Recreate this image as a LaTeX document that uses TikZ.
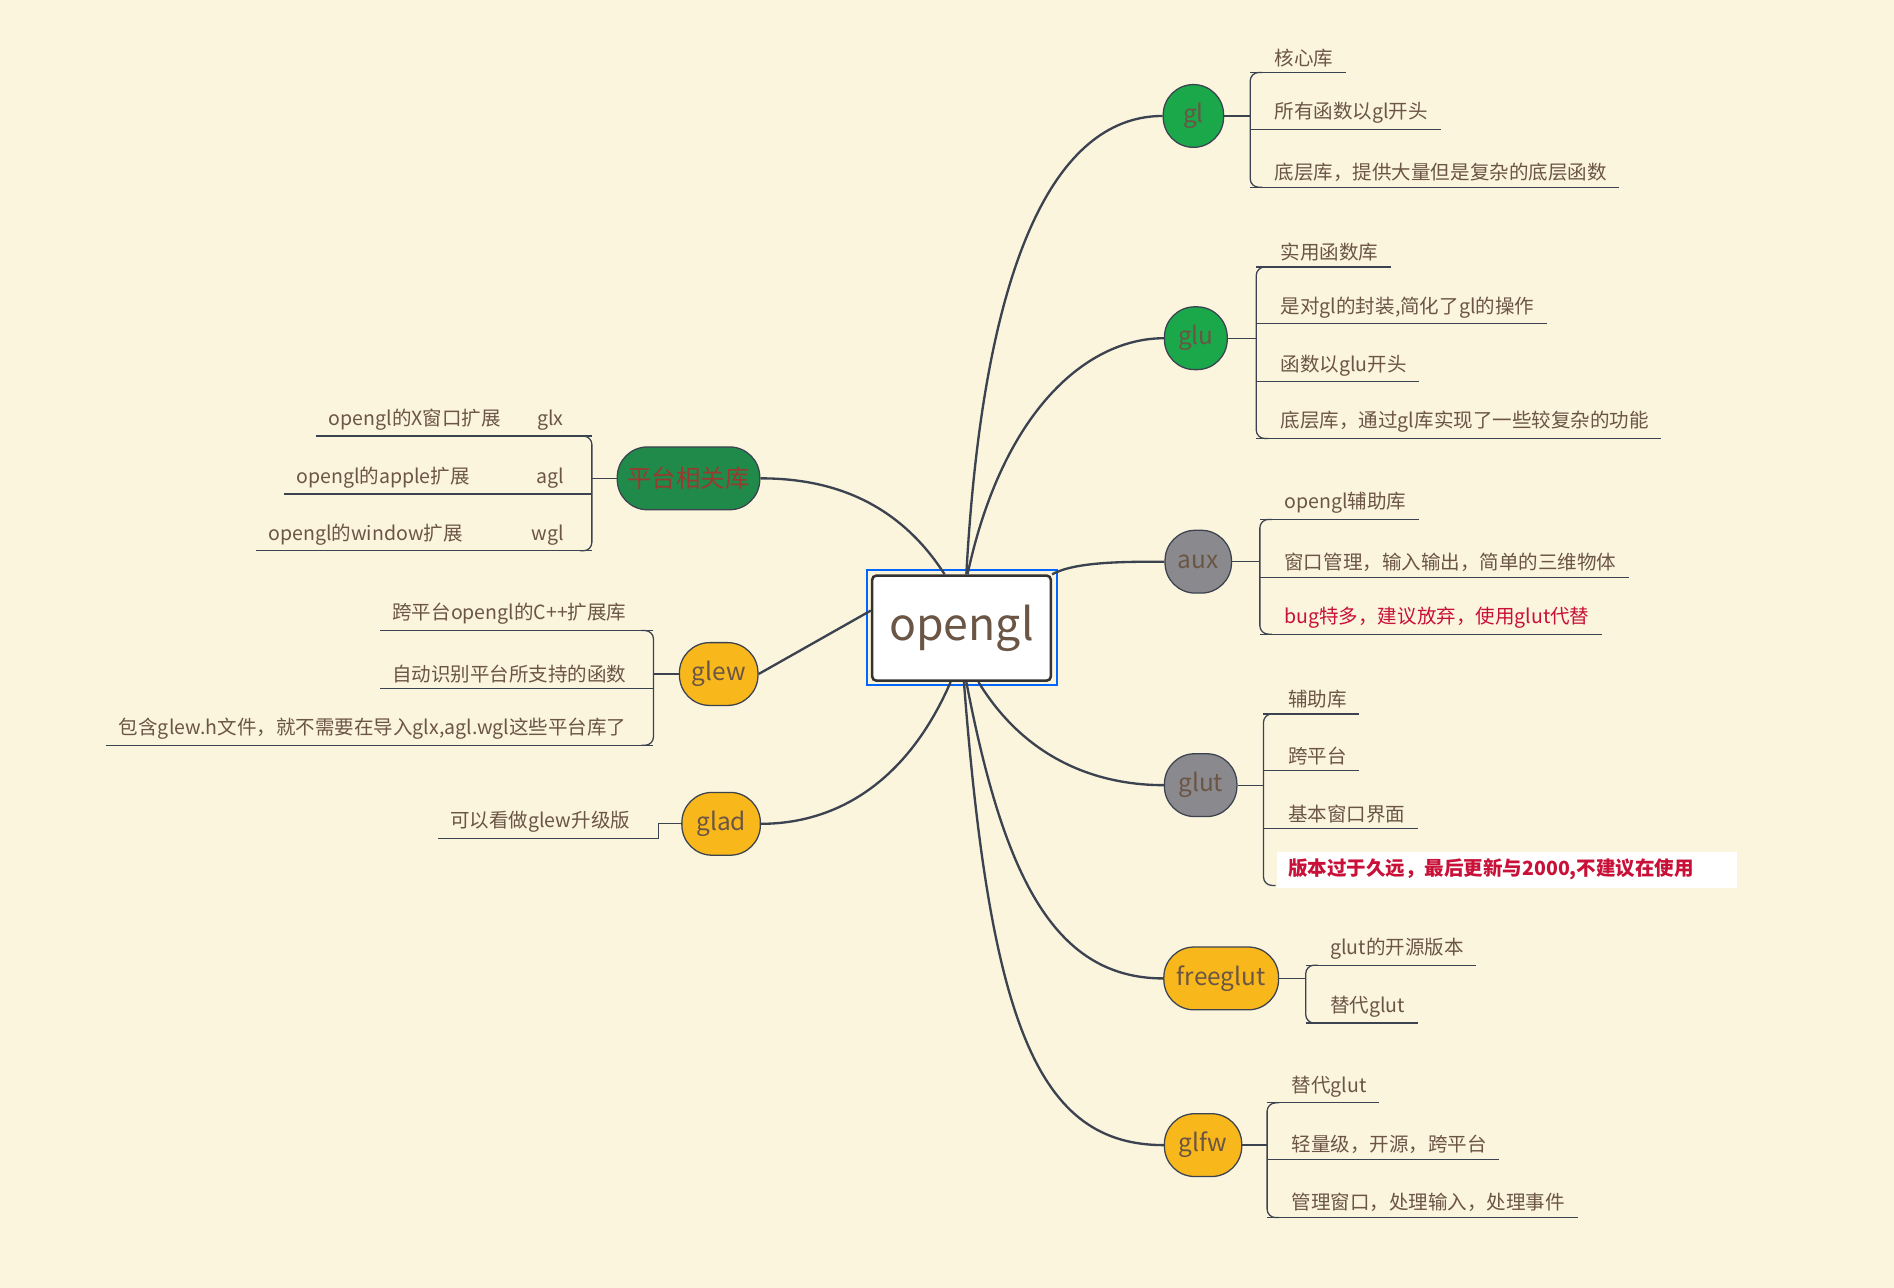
\documentclass[tikz,border=0pt]{standalone}
\usepackage{fontspec}
\setmainfont{Noto Sans CJK SC}
\definecolor{bgcolor}{RGB}{252,245,222}
\definecolor{txtcolor}{RGB}{107,85,68}
\definecolor{linecolor}{RGB}{60,67,80}
\definecolor{glgreen}{RGB}{26,168,74}
\definecolor{platgreen}{RGB}{32,138,74}
\definecolor{auxgray}{RGB}{138,138,142}
\definecolor{libyellow}{RGB}{248,184,28}
\definecolor{warnred}{RGB}{200,16,56}
\tikzset{
  lib/.style={draw=linecolor, line width=0.6pt, rounded corners=0.5cm, minimum height=1.04cm,
    text=txtcolor, font=\fontsize{11.5pt}{13pt}\selectfont, inner sep=0pt},
  leaf/.style={inner xsep=0pt, inner ysep=2.5pt, text=txtcolor, font=\fontsize{9.2pt}{11pt}\selectfont},
  warn/.style={leaf, text=warnred},
  link/.style={draw=linecolor, line width=1.1pt},
  rib/.style={draw=linecolor, line width=0.6pt},
}
\begin{document}
\begin{tikzpicture}[x=0.02cm, y=-0.02cm]
\fill[bgcolor] (0,0) rectangle (1568,1066);
\useasboundingbox (0,0) rectangle (1568,1066);
% centre
\draw[blue!60!cyan, line width=1pt] (718,472) rectangle (875,567);
\node[draw=black!80, line width=1.2pt, rounded corners=2pt, fill=white, minimum width=2.96cm, minimum height=1.74cm,
  text=txtcolor, font=\fontsize{21pt}{24pt}\selectfont] (opengl) at (796,520) {opengl};
% libraries
\node[lib, fill=glgreen, minimum width=1.0cm] (gl) at (988,96) {gl};
\node[lib, fill=glgreen, minimum width=1.04cm] (glu) at (990,280) {glu};
\node[lib, fill=auxgray, minimum width=1.1cm] (aux) at (992,465) {aux};
\node[lib, fill=auxgray, minimum width=1.2cm] (glut) at (994,650) {glut};
\node[lib, fill=libyellow, minimum width=1.9cm] (freeglut) at (1011,810) {freeglut};
\node[lib, fill=libyellow, minimum width=1.28cm] (glfw) at (996,948) {glfw};
\node[lib, fill=platgreen, minimum width=2.36cm, text=txtcolor!70!red] (plat) at (570,396) {平台相关库};
\node[lib, fill=libyellow, minimum width=1.3cm] (glew) at (595,558) {glew};
\node[lib, fill=libyellow, minimum width=1.3cm] (glad) at (597,682) {glad};
% links
\draw[link] ([xshift=0.08cm]opengl.north) .. controls (815,200) and (880,96) .. (gl.west);
\draw[link] ([xshift=0.1cm]opengl.north) .. controls (830,340) and (900,280) .. (glu.west);
\draw[link] ([xshift=1.5cm]opengl.north) .. controls (890,465) and (930,465) .. (aux.west);
\draw[link] ([xshift=-0.28cm]opengl.north) .. controls (740,410) and (680,396) .. (plat.east);
\draw[link] ([yshift=-0.6cm]opengl.north west) -- (glew.east);
\draw[link] ([xshift=-0.18cm]opengl.south) .. controls (750,650) and (690,682) .. (glad.east);
\draw[link] ([xshift=0.28cm]opengl.south) .. controls (850,630) and (910,650) .. (glut.west);
\draw[link] ([xshift=0.08cm]opengl.south) .. controls (830,720) and (870,810) .. (freeglut.west);
\draw[link] ([xshift=0.04cm]opengl.south) .. controls (820,850) and (860,948) .. (glfw.west);
% right leaves
\foreach \src/\bx/\ytop/\ybot/\items in {
  gl/1035/60/155/{60/{核心库}/leaf, 107/{所有函数以gl开头}/leaf, 155/{底层库，提供大量但是复杂的底层函数}/leaf},
  glu/1040/221/363/{221/{实用函数库}/leaf, 268/{是对gl的封装,简化了gl的操作}/leaf, 316/{函数以glu开头}/leaf, 363/{底层库，通过gl库实现了一些较复杂的功能}/leaf},
  aux/1043/430/525/{430/{opengl辅助库}/leaf, 478/{窗口管理，输入输出，简单的三维物体}/leaf, 525/{bug特多，建议放弃，使用glut代替}/warn},
  glut/1046/591/733/{591/{辅助库}/leaf, 638/{跨平台}/leaf, 686/{基本窗口界面}/leaf},
  freeglut/1081/799/847/{799/{glut的开源版本}/leaf, 847/{替代glut}/leaf},
  glfw/1049/913/1008/{913/{替代glut}/leaf, 960/{轻量级，开源，跨平台}/leaf, 1008/{管理窗口，处理输入，处理事件}/leaf}} {
  \coordinate (\src-bar) at (\bx,0);
  \draw[rib] (\src.east) -- (\src.east -| \src-bar);
  \draw[rib, rounded corners=4pt] (\bx+10,\ytop) -- (\bx,\ytop) -- (\bx,\ybot) -- (\bx+10,\ybot);
  \foreach \y/\txt/\sty in \items {
    \coordinate (\src-b\y) at (\bx,\y);
    \node[\sty, anchor=south west] (\src-l\y) at (\bx+20,\y) {\txt};
    \draw[rib] (\src-b\y) -- ([xshift=0.2cm]\src-l\y.south east);
  }
}
% glut warning
\coordinate (glut-b733) at (1046,733);
\fill[white] (1057,705) rectangle (1438,735);
\node[warn, anchor=south west, font=\fontsize{9.2pt}{11pt}\bfseries] (glut-l733) at (1066,733) {版本过于久远，最后更新与2000,不建议在使用};
% left leaves
\draw[rib] (plat.west) -- (490,396);
\draw[rib, rounded corners=4pt] (480,361) -- (490,361) -- (490,456) -- (480,456);
\foreach \y/\txt/\short/\x in {361/{opengl的X窗口扩展}/glx/262, 409/{opengl的apple扩展}/agl/235, 456/{opengl的window扩展}/wgl/212} {
  \coordinate (plat-b\y) at (490,\y);
  \node[leaf, anchor=south east] (plat-s\y) at (467,\y) {\short};
  \node[leaf, anchor=south west] (plat-l\y) at (\x+10,\y) {\txt};
  \draw[rib] (plat-b\y) -- (\x,\y);
}
\draw[rib] (glew.west) -- (541,558);
\draw[rib, rounded corners=4pt] (531,522) -- (541,522) -- (541,617) -- (531,617);
\foreach \y/\txt in {522/{跨平台opengl的C++扩展库}, 570/{自动识别平台所支持的函数}, 617/{包含glew.h文件，就不需要在导入glx,agl.wgl这些平台库了}} {
  \coordinate (glew-b\y) at (541,\y);
  \node[leaf, anchor=south east] (glew-l\y) at (519,\y) {\txt};
  \draw[rib] (glew-b\y) -- ([xshift=-0.2cm]glew-l\y.south west);
}
\coordinate (glad-b) at (545,694);
\node[leaf, anchor=south east] (glad-l) at (522,694) {可以看做glew升级版};
\draw[rib] (glad.west) -- (545,682) -- (glad-b) -- ([xshift=-0.2cm]glad-l.south west);
\end{tikzpicture}
\end{document}
